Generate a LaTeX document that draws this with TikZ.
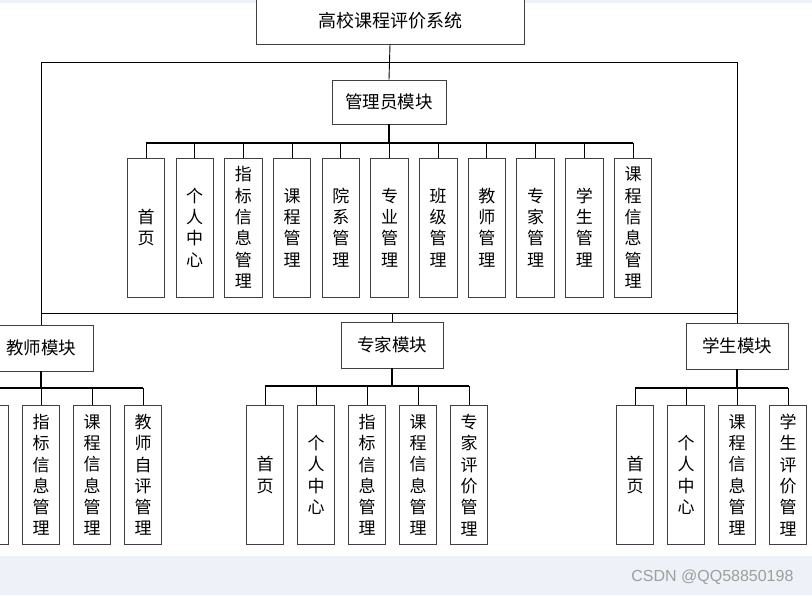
\documentclass[tikz,border=0pt]{standalone}
\usepackage{fontspec}
\newfontfamily\cjk{Noto Sans CJK SC}
\newfontfamily\wmfont{Liberation Sans}
\usetikzlibrary{positioning}
\definecolor{bandgray}{HTML}{EEF2F8}

\begin{document}
\begin{tikzpicture}[
        x=1pt, y=-1pt,
        node distance=10.4pt,
        modbox/.style={rectangle, draw=black!75, line width=0.8pt, fill=white, minimum width=102pt, minimum height=46pt, inner sep=0pt, font=\cjk\fontsize{17.5}{21}\selectfont},
        funcbox/.style={rectangle, draw=black!75, line width=0.8pt, fill=white, minimum width=37.5pt, minimum height=139pt, inner sep=0pt, align=center, font=\cjk\fontsize{17}{21.3}\selectfont},
        link/.style={black, line width=0.9pt},
        bus/.style={black, line width=1.6pt}
    ]

        \clip (0,0) rectangle (812,595);
        \fill[white] (0,0) rectangle (812,595);
        \fill[bandgray] (0,0) rectangle (812,3);
        \fill[bandgray] (0,556) rectangle (812,595);

        % system and modules
        \node[modbox, minimum width=268pt, font=\cjk\fontsize{18}{21}\selectfont] (sys) at (390,21) {高校课程评价系统};
        \node[modbox, minimum width=114pt, minimum height=44pt] (admin) at (389,102) {管理员模块};
        \node[modbox, minimum width=104pt] (teacher) at (41,348) {教师模块};
        \node[modbox] (expert) at (392,345) {专家模块};
        \node[modbox] (student) at (737,346) {学生模块};

        \coordinate (topbar) at (0,62);
        \coordinate (midbar) at (0,313);
        \coordinate (abus) at (0,143);
        \coordinate (tbus) at (0,388);
        \coordinate (ebus) at (0,386);
        \coordinate (sbus) at (0,388);

        % admin functions
        \node[funcbox] (a1) at (146,227.5) {首\\页};
        \node[funcbox, right=of a1] (a2) {个\\人\\中\\心};
        \node[funcbox, right=of a2] (a3) {指\\标\\信\\息\\管\\理};
        \node[funcbox, right=of a3] (a4) {课\\程\\管\\理};
        \node[funcbox, right=of a4] (a5) {院\\系\\管\\理};
        \node[funcbox, right=of a5] (a6) {专\\业\\管\\理};
        \node[funcbox, right=of a6] (a7) {班\\级\\管\\理};
        \node[funcbox, right=of a7] (a8) {教\\师\\管\\理};
        \node[funcbox, right=of a8] (a9) {专\\家\\管\\理};
        \node[funcbox, right=of a9] (a10) {学\\生\\管\\理};
        \node[funcbox, right=of a10] (a11) {课\\程\\信\\息\\管\\理};

        % teacher functions
        \begin{scope}[node distance=12.7pt]
        \node[funcbox] (t1) at (-10,475) {};
        \node[funcbox, right=of t1] (t2) {指\\标\\信\\息\\管\\理};
        \node[funcbox, right=of t2] (t3) {课\\程\\信\\息\\管\\理};
        \node[funcbox, right=of t3] (t4) {教\\师\\自\\评\\管\\理};

        % expert functions
        \node[funcbox] (e1) at (265,475) {首\\页};
        \node[funcbox, right=of e1] (e2) {个\\人\\中\\心};
        \node[funcbox, right=of e2] (e3) {指\\标\\信\\息\\管\\理};
        \node[funcbox, right=of e3] (e4) {课\\程\\信\\息\\管\\理};
        \node[funcbox, right=of e4] (e5) {专\\家\\评\\价\\管\\理};

        % student functions
        \node[funcbox] (s1) at (635,475) {首\\页};
        \node[funcbox, right=of s1] (s2) {个\\人\\中\\心};
        \node[funcbox, right=of s2] (s3) {课\\程\\信\\息\\管\\理};
        \node[funcbox, right=of s3] (s4) {学\\生\\评\\价\\管\\理};
        \end{scope}

        % frame lines
        \draw[link] (sys.south) -- (admin.north);
        \draw[link] (teacher.north) -- (teacher.north |- topbar) -- (student.north |- topbar) -- (student.north);
        \draw[link] (teacher.north |- midbar) -- (student.north |- midbar);
        \draw[link] (expert.north |- midbar) -- (expert.north);

        % buses
        \draw[bus] (admin.south) -- (admin.south |- abus);
        \draw[bus] (a1.north |- abus) -- (a11.north |- abus);
        \foreach \n in {a1,a2,a3,a4,a5,a6,a7,a8,a9,a10,a11}
            \draw[link] (\n.north |- abus) -- (\n.north);

        \draw[bus] (teacher.south) -- (teacher.south |- tbus);
        \draw[bus] (t1.north |- tbus) ++(-60,0) -- (t4.north |- tbus);
        \foreach \n in {t1,t2,t3,t4}
            \draw[link] (\n.north |- tbus) -- (\n.north);

        \draw[bus] (expert.south) -- (expert.south |- ebus);
        \draw[bus] (e1.north |- ebus) -- (e5.north |- ebus);
        \foreach \n in {e1,e2,e3,e4,e5}
            \draw[link] (\n.north |- ebus) -- (\n.north);

        \draw[bus] (student.south) -- (student.south |- sbus);
        \draw[bus] (s1.north |- sbus) -- (s4.north |- sbus);
        \foreach \n in {s1,s2,s3,s4}
            \draw[link] (\n.north |- sbus) -- (\n.north);

        \node[font=\wmfont\fontsize{16}{16}\selectfont, text=black!38, anchor=east] (mark) at (797,577) {CSDN @QQ58850198};
    \end{tikzpicture}
\end{document}
